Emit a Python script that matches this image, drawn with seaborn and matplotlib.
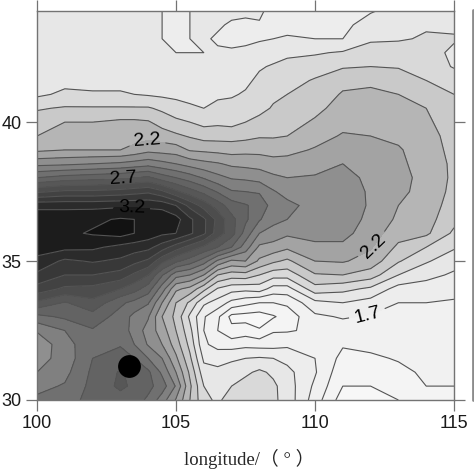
import matplotlib
matplotlib.use("Agg")
import matplotlib.pyplot as plt
from matplotlib.lines import Line2D
import numpy as np
import pandas as pd
import seaborn as sns

lats = [30.0, 30.5, 31.0, 31.5, 32.0, 32.5, 33.0, 33.5, 34.0, 34.5, 35.0, 35.5, 36.0, 36.5, 37.0,
        37.5, 38.0, 38.5, 39.0, 39.5, 40.0, 40.5, 41.0, 41.5, 42.0, 42.5, 43.0, 43.5, 44.0]
lons = [100, 101, 102, 103, 103.5, 104, 104.5, 105, 105.5, 106, 106.5, 107, 107.5, 108, 108.5,
        109, 110, 111, 112, 113, 114, 115]

# one column per longitude, south to north
c100 = [2.52, 2.47, 2.40, 2.36, 2.33, 2.41, 2.57, 2.78, 2.96, 3.08, 3.17, 3.25, 3.28, 3.27, 3.17, 2.88, 2.60, 2.37, 2.18, 2.10, 2.05, 1.99, 1.88, 1.86, 1.85, 1.85, 1.84, 1.84, 1.84]
c101 = [2.55, 2.51, 2.47, 2.44, 2.46, 2.50, 2.62, 2.69, 2.88, 3.00, 3.08, 3.23, 3.28, 3.27, 3.17, 2.92, 2.64, 2.38, 2.20, 2.15, 2.10, 2.01, 1.92, 1.87, 1.86, 1.85, 1.85, 1.85, 1.85]
c102 = [2.64, 2.63, 2.62, 2.60, 2.57, 2.59, 2.66, 2.77, 2.87, 3.00, 3.11, 3.22, 3.31, 3.28, 3.17, 2.92, 2.66, 2.40, 2.20, 2.16, 2.10, 2.01, 1.91, 1.87, 1.86, 1.85, 1.85, 1.85, 1.85]
c103 = [2.66, 2.72, 2.71, 2.65, 2.59, 2.56, 2.56, 2.62, 2.80, 2.96, 3.08, 3.17, 3.34, 3.31, 3.18, 2.94, 2.68, 2.42, 2.20, 2.16, 2.12, 2.01, 1.91, 1.87, 1.86, 1.85, 1.85, 1.85, 1.85]
c1035 = [2.65, 2.68, 2.67, 2.60, 2.50, 2.46, 2.47, 2.57, 2.74, 2.88, 3.03, 3.15, 3.30, 3.30, 3.18, 2.96, 2.70, 2.44, 2.23, 2.16, 2.12, 2.01, 1.90, 1.86, 1.85, 1.84, 1.84, 1.84, 1.84]
c104 = [2.58, 2.63, 2.62, 2.50, 2.39, 2.36, 2.41, 2.51, 2.65, 2.80, 2.98, 3.13, 3.26, 3.27, 3.18, 2.98, 2.72, 2.46, 2.27, 2.17, 2.11, 2.01, 1.89, 1.85, 1.84, 1.83, 1.83, 1.83, 1.83]
c1045 = [2.45, 2.55, 2.48, 2.40, 2.30, 2.25, 2.20, 2.30, 2.45, 2.61, 2.83, 3.05, 3.22, 3.27, 3.17, 2.92, 2.65, 2.43, 2.26, 2.15, 2.06, 1.98, 1.88, 1.84, 1.82, 1.81, 1.80, 1.80, 1.80]
c105 = [2.29, 2.39, 2.30, 2.22, 2.15, 2.10, 2.07, 2.10, 2.22, 2.44, 2.72, 2.95, 3.20, 3.24, 3.10, 2.82, 2.60, 2.40, 2.25, 2.12, 2.02, 1.95, 1.87, 1.83, 1.81, 1.80, 1.78, 1.78, 1.78]
c1055 = [2.10, 2.12, 2.08, 2.02, 1.97, 1.93, 1.88, 1.98, 2.17, 2.40, 2.65, 2.86, 3.12, 3.12, 2.97, 2.74, 2.55, 2.36, 2.19, 2.09, 2.00, 1.92, 1.86, 1.83, 1.81, 1.80, 1.80, 1.80, 1.80]
c106 = [1.93, 1.90, 1.84, 1.78, 1.72, 1.70, 1.71, 1.82, 2.03, 2.30, 2.55, 2.78, 3.02, 3.02, 2.86, 2.67, 2.49, 2.33, 2.18, 2.06, 1.97, 1.90, 1.84, 1.82, 1.81, 1.80, 1.81, 1.81, 1.81]
c1065 = [1.88, 1.86, 1.82, 1.77, 1.66, 1.60, 1.62, 1.76, 1.89, 2.10, 2.38, 2.70, 2.85, 2.87, 2.75, 2.59, 2.43, 2.31, 2.17, 2.06, 1.98, 1.93, 1.88, 1.85, 1.83, 1.81, 1.79, 1.81, 1.82]
c107 = [1.95, 1.90, 1.83, 1.79, 1.65, 1.53, 1.47, 1.67, 1.84, 2.05, 2.28, 2.60, 2.74, 2.73, 2.65, 2.51, 2.39, 2.28, 2.16, 2.06, 1.97, 1.93, 1.89, 1.86, 1.84, 1.81, 1.78, 1.79, 1.82]
c1075 = [1.97, 1.94, 1.88, 1.80, 1.67, 1.55, 1.46, 1.63, 1.83, 2.06, 2.30, 2.45, 2.56, 2.62, 2.61, 2.50, 2.38, 2.27, 2.17, 2.07, 2.00, 1.95, 1.91, 1.88, 1.85, 1.82, 1.78, 1.78, 1.82]
c108 = [1.97, 1.96, 1.92, 1.81, 1.66, 1.51, 1.45, 1.60, 1.85, 2.00, 2.18, 2.28, 2.40, 2.51, 2.56, 2.49, 2.36, 2.26, 2.17, 2.09, 2.03, 1.97, 1.94, 1.92, 1.89, 1.84, 1.79, 1.79, 1.82]
c1085 = [1.92, 1.92, 1.88, 1.80, 1.66, 1.59, 1.49, 1.60, 1.76, 1.94, 2.12, 2.26, 2.36, 2.43, 2.46, 2.41, 2.32, 2.24, 2.16, 2.09, 2.04, 2.01, 1.98, 1.94, 1.91, 1.86, 1.80, 1.77, 1.76]
c109 = [1.86, 1.85, 1.83, 1.77, 1.68, 1.59, 1.54, 1.62, 1.76, 1.94, 2.08, 2.22, 2.32, 2.40, 2.43, 2.36, 2.30, 2.24, 2.17, 2.10, 2.07, 2.03, 2.00, 1.96, 1.93, 1.88, 1.81, 1.77, 1.77]
c110 = [1.65, 1.68, 1.71, 1.70, 1.63, 1.62, 1.68, 1.77, 1.96, 2.09, 2.20, 2.28, 2.33, 2.35, 2.36, 2.34, 2.31, 2.26, 2.21, 2.16, 2.11, 2.08, 2.04, 2.01, 1.95, 1.89, 1.80, 1.77, 1.76]
c111 = [1.45, 1.50, 1.53, 1.57, 1.61, 1.65, 1.71, 1.80, 1.93, 2.10, 2.21, 2.28, 2.33, 2.34, 2.35, 2.34, 2.33, 2.30, 2.26, 2.21, 2.17, 2.13, 2.11, 2.07, 1.99, 1.91, 1.80, 1.77, 1.75]
c112 = [1.45, 1.50, 1.54, 1.58, 1.63, 1.66, 1.69, 1.76, 1.88, 2.05, 2.16, 2.21, 2.25, 2.28, 2.29, 2.29, 2.28, 2.26, 2.23, 2.20, 2.17, 2.14, 2.11, 2.09, 2.00, 1.96, 1.88, 1.85, 1.79]
c113 = [1.50, 1.56, 1.57, 1.61, 1.63, 1.65, 1.67, 1.70, 1.76, 1.90, 2.01, 2.08, 2.14, 2.18, 2.20, 2.22, 2.23, 2.22, 2.21, 2.18, 2.15, 2.12, 2.10, 2.07, 1.99, 1.95, 1.89, 1.86, 1.84]
c114 = [1.56, 1.60, 1.62, 1.64, 1.65, 1.66, 1.68, 1.70, 1.74, 1.84, 1.91, 2.00, 2.12, 2.14, 2.16, 2.17, 2.17, 2.16, 2.15, 2.14, 2.12, 2.10, 2.05, 2.00, 1.97, 1.94, 1.91, 1.89, 1.87]
c115 = [1.58, 1.60, 1.63, 1.65, 1.66, 1.67, 1.68, 1.69, 1.73, 1.78, 1.85, 1.91, 1.98, 2.03, 2.05, 2.07, 2.08, 2.08, 2.07, 2.06, 2.04, 2.02, 2.00, 1.97, 1.89, 1.88, 1.91, 1.88, 1.87]

levels = [1.3, 1.5, 1.6, 1.7, 1.8, 1.9, 2.0, 2.1, 2.2, 2.3, 2.4, 2.5, 2.6, 2.7, 2.8, 2.9, 3.0, 3.1, 3.2, 3.3, 3.5]
greys = [0.97, 0.955, 0.945, 0.93, 0.905, 0.85, 0.79, 0.71, 0.64, 0.56, 0.50, 0.44, 0.39, 0.34, 0.30, 0.26, 0.22, 0.17, 0.11, 0.07]
labelled = [1.7, 2.2, 2.7, 3.2]

site_lon = [103.32]
site_lat = [31.22]

label_lons = [104.0, 103.1, 103.4, 112.0, 111.9]
label_lats = [39.2, 37.8, 36.9, 35.6, 32.95]
x_ticks = [100, 105, 110, 115]
y_ticks = [30, 35, 40]

sns.set_style("white")
plt.rcParams['font.family'] = ['Liberation Sans', 'DejaVu Sans']

z = pd.DataFrame(np.column_stack([c100, c101, c102, c103, c1035, c104, c1045, c105, c1055, c106, c1065,
                                  c107, c1075, c108, c1085, c109, c110, c111, c112, c113, c114, c115]),
                 index=lats, columns=lons)

fig = plt.figure(figsize=(4.74, 4.74), dpi=100)
ax = fig.add_axes([37 / 474, 74 / 474, 417 / 474, 389 / 474])

ax.contourf(z.columns, z.index, z.values, levels=levels, colors=[str(g) for g in greys])
plain = [l for l in levels[1:-1] if l not in labelled]
ax.contour(z.columns, z.index, z.values, levels=plain, colors="0.33", linewidths=0.8)
lines = ax.contour(z.columns, z.index, z.values, levels=labelled, colors="0.33", linewidths=0.8)
ax.clabel(lines, fmt="%.1f", fontsize=14, colors="black", inline=True,
          manual=list(zip(label_lons, label_lats)))

sns.scatterplot(x=site_lon, y=site_lat, s=270, color="black", linewidth=0, ax=ax, zorder=5)

ax.set_xlim(100, 115)
ax.set_ylim(30, 44)
ax.set_xticks(x_ticks)
ax.set_yticks(y_ticks)
ax.tick_params(axis="both", labelsize=13, length=8, width=0.9, color="0.45", pad=3,
               top=True, right=True, bottom=True, left=True, labelcolor="0.1")
for s in ax.spines.values():
    s.set_color("0.45")
    s.set_linewidth(1.0)

ax.set_xlabel("longitude/（ ° ）", family=["Liberation Serif", "Noto Sans CJK SC"], fontsize=13.5, labelpad=8)
ax.xaxis.set_label_coords(0.51, -0.125)

# sliver of the neighbouring panel at the right edge
fig.add_artist(Line2D([472.8 / 474, 472.8 / 474], [74 / 474, 464 / 474], color="0.55", linewidth=2))

plt.savefig("out.png", dpi=100)
plt.close()
